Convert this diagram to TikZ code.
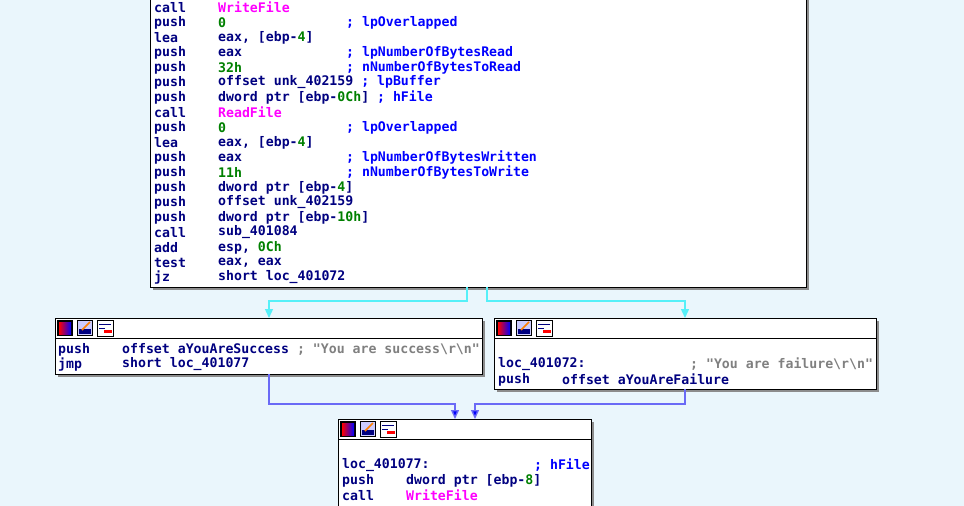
\documentclass[tikz,border=0pt]{standalone}
\usepackage{fontspec}
\newfontfamily\codefont{DejaVu Sans Mono}
\usetikzlibrary{arrows.meta}
\definecolor{bgc}{HTML}{EAF6FC}
\definecolor{mn}{HTML}{000080}
\definecolor{cm}{HTML}{0000FF}
\definecolor{nm}{HTML}{008000}
\definecolor{fn}{HTML}{FF00FF}
\definecolor{st}{HTML}{808080}
\definecolor{cy}{HTML}{55F0F8}
\definecolor{bl}{HTML}{0000FF}
\definecolor{blf}{HTML}{6A6AF6}
\newcommand{\N}[1]{\textcolor{nm}{#1}}
\newcommand{\F}[1]{\textcolor{fn}{#1}}
\newcommand{\C}[1]{\textcolor{cm}{#1}}
\newcommand{\G}[1]{\textcolor{st}{#1}}
\tikzset{
 cd/.style={anchor=west,inner sep=0pt,yshift=-1.5pt,font=\codefont\bfseries\fontsize{13.2}{15}\selectfont,text=mn},
 cedge/.style={draw=cy,line width=1.4pt,-{Triangle[width=8pt,length=9pt]}},
 bedge/.style={draw=blf,line width=1.4pt,-{Triangle[width=8pt,length=9pt,fill=bl]}},
}
\newcommand{\icons}[3]{%
 \fill[black] (#1,#2) rectangle ++(16,16);
 \shade[left color=red,right color=blue] (#1+2,#2+2) rectangle ++(12,12);
 \fill[black] (#1+20,#2) rectangle ++(16,16);
 \fill[white!80!blue] (#1+21,#2+1) rectangle ++(14,14);
 \fill[mn] (#1+22,#2+9) rectangle ++(12,5);
 \draw[orange,line width=1.5pt] (#1+25,#2+10) -- (#1+33,#2+2);
 \draw[black] (#1+40,#2) rectangle ++(16,16);
 \fill[white] (#1+40.5,#2+0.5) rectangle ++(15,15);
 \draw[mn] (#1+42,#2+4) -- ++(12,0) (#1+42,#2+8) -- ++(6,0);
 \fill[red] (#1+47,#2+10) rectangle ++(8,3);
}
\begin{document}
\begin{tikzpicture}[x=1pt,y=-1pt]
\fill[bgc] (0,0) rectangle (964,506);
\useasboundingbox (0,0) rectangle (964,506);
% top block
\fill[black!45] (153,-5) rectangle (809,290);
\filldraw[fill=white,draw=black,line width=1pt] (150,-5) rectangle (806,287);
\node[cd] (t1) at (154,6) {call};  \node[cd] at (218,6) {\F{WriteFile}};
\node[cd] (t2) at (154,21) {push}; \node[cd] at (218,21) {\N{0}}; \node[cd] at (346,21) {\C{; lpOverlapped}};
\node[cd] (t3) at (154,36) {lea};  \node[cd] at (218,36) {eax, [ebp-\N{4}]};
\node[cd] (t4) at (154,51) {push}; \node[cd] at (218,51) {eax}; \node[cd] at (346,51) {\C{; lpNumberOfBytesRead}};
\node[cd] (t5) at (154,66) {push}; \node[cd] at (218,66) {\N{32h}}; \node[cd] at (346,66) {\C{; nNumberOfBytesToRead}};
\node[cd] (t6) at (154,81) {push}; \node[cd] at (218,81) {offset unk\_402159 \C{; lpBuffer}};
\node[cd] (t7) at (154,96) {push}; \node[cd] at (218,96) {dword ptr [ebp-\N{0Ch}] \C{; hFile}};
\node[cd] (t8) at (154,111) {call}; \node[cd] at (218,111) {\F{ReadFile}};
\node[cd] (t9) at (154,126) {push}; \node[cd] at (218,126) {\N{0}}; \node[cd] at (346,126) {\C{; lpOverlapped}};
\node[cd] (t10) at (154,141) {lea}; \node[cd] at (218,141) {eax, [ebp-\N{4}]};
\node[cd] (t11) at (154,156) {push}; \node[cd] at (218,156) {eax}; \node[cd] at (346,156) {\C{; lpNumberOfBytesWritten}};
\node[cd] (t12) at (154,171) {push}; \node[cd] at (218,171) {\N{11h}}; \node[cd] at (346,171) {\C{; nNumberOfBytesToWrite}};
\node[cd] (t13) at (154,186) {push}; \node[cd] at (218,186) {dword ptr [ebp-\N{4}]};
\node[cd] (t14) at (154,201) {push}; \node[cd] at (218,201) {offset unk\_402159};
\node[cd] (t15) at (154,216) {push}; \node[cd] at (218,216) {dword ptr [ebp-\N{10h}]};
\node[cd] (t16) at (154,231) {call}; \node[cd] at (218,231) {sub\_401084};
\node[cd] (t17) at (154,246) {add}; \node[cd] at (218,246) {esp, \N{0Ch}};
\node[cd] (t18) at (154,261) {test}; \node[cd] at (218,261) {eax, eax};
\node[cd] (t19) at (154,276) {jz}; \node[cd] at (218,276) {short loc\_401072};
% left block
\fill[black!45] (58,321) rectangle (485,377);
\filldraw[fill=white,draw=black,line width=1pt] (55,318) rectangle (482,374);
\draw[black,line width=1pt] (55,338) -- (482,338);
\icons{57}{320}{}
\node[cd] (l1) at (58,348) {push}; \node[cd] at (122,348) {offset aYouAreSuccess \G{; "You are success\textbackslash r\textbackslash n"}};
\node[cd] (l2) at (58,363) {jmp}; \node[cd] at (122,363) {short loc\_401077};
% right block
\fill[black!45] (497,321) rectangle (879,392);
\filldraw[fill=white,draw=black,line width=1pt] (494,318) rectangle (876,389);
\draw[black,line width=1pt] (494,338) -- (876,338);
\icons{496}{320}{}
\node[cd] (r1) at (498,363) {loc\_401072:}; \node[cd] at (690,363) {\G{; "You are failure\textbackslash r\textbackslash n"}};
\node[cd] (r2) at (498,378) {push}; \node[cd] at (562,378) {offset aYouAreFailure};
% bottom block
\fill[black!45] (341,422) rectangle (594,512);
\filldraw[fill=white,draw=black,line width=1pt] (338,419) rectangle (591,512);
\draw[black,line width=1pt] (338,439) -- (591,439);
\icons{340}{421}{}
\node[cd] (b1) at (342,464) {loc\_401077:}; \node[cd] at (534,464) {\C{; hFile}};
\node[cd] (b2) at (342,479) {push}; \node[cd] at (406,479) {dword ptr [ebp-\N{8}]};
\node[cd] (b3) at (342,494) {call}; \node[cd] at (406,494) {\F{WriteFile}};
% edges
\coordinate (tl) at (467,287); \coordinate (tr) at (487,287);
\coordinate (lt) at (269,318); \coordinate (rt) at (685,318);
\coordinate (lb) at (269,374); \coordinate (rb) at (685,389);
\coordinate (bl1) at (455,419); \coordinate (bl2) at (475,419);
\draw[cedge] (tl) -- (467,301) -| (lt);
\draw[cedge] (tr) -- (487,301) -| (rt);
\draw[bedge] (lb) -- (269,404) -| (bl1);
\draw[bedge] (rb) -- (685,404) -| (bl2);
\end{tikzpicture}
\end{document}
